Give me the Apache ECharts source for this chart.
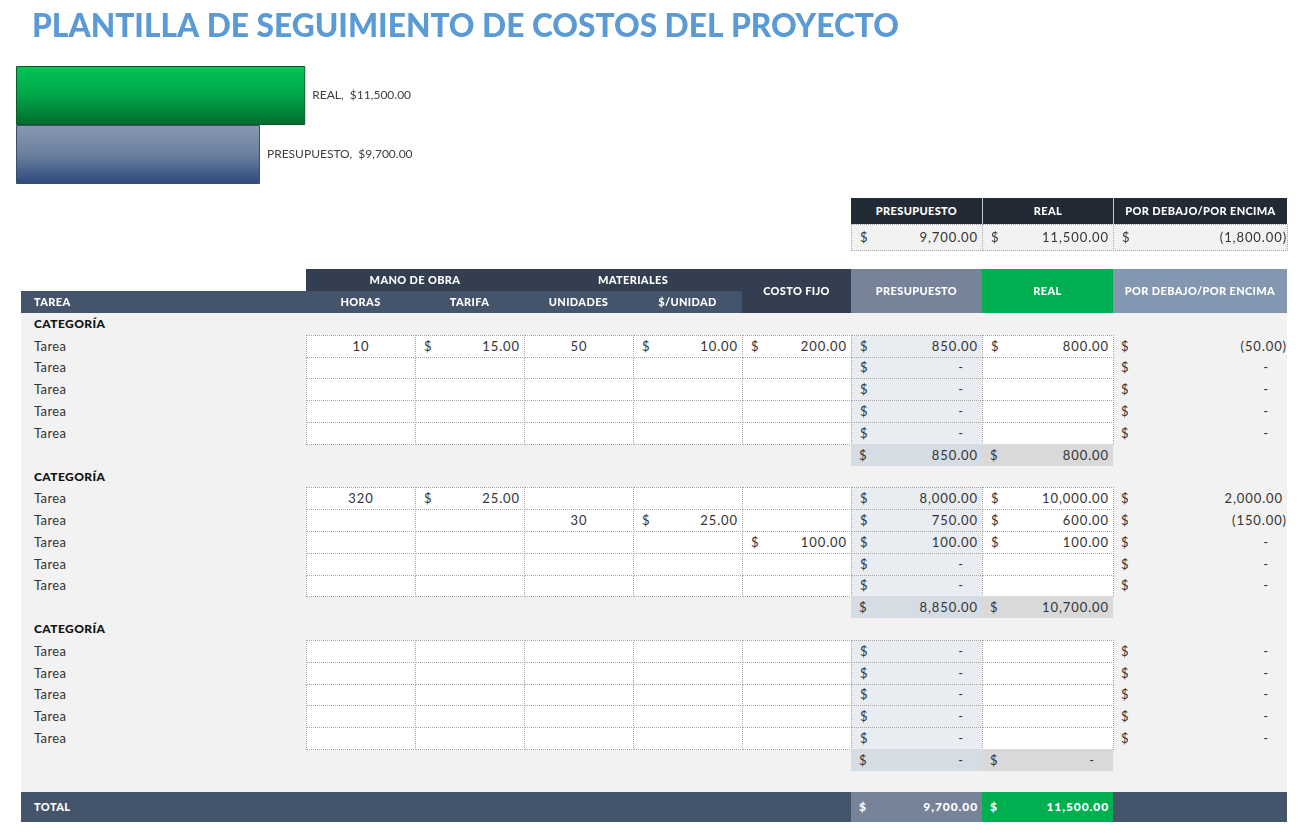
<!DOCTYPE html>
<html>
<head>
<meta charset="utf-8">
<script src="https://cdn.jsdelivr.net/npm/echarts@6/dist/echarts.min.js"></script>
<style>
html,body{margin:0;padding:0;background:#fff;width:1300px;height:833px;overflow:hidden;font-family:Lato,'Open Sans',sans-serif;}
#chart{position:absolute;left:0;top:0;width:1300px;height:200px;}
#sheet{position:absolute;left:0;top:0;width:1300px;height:833px;pointer-events:none;}
.c{position:absolute;box-sizing:border-box;font-size:13px;letter-spacing:0.4px;color:#333;white-space:nowrap;overflow:hidden;}
.h{color:#fff;font-weight:900;font-size:11px;letter-spacing:0.35px;text-align:center;}
.dot{border:1px dotted #a6a6a6;}
.cur{position:absolute;left:8px;top:0;letter-spacing:0;}
.num{position:absolute;top:0;letter-spacing:0.9px;}
</style>
</head>
<body>
<div id="chart"></div>
<div id="sheet"></div>
<script>
// ---------------- data ----------------
const titleText = 'PLANTILLA DE SEGUIMIENTO DE COSTOS DEL PROYECTO';
const barCategories = ['PRESUPUESTO', 'REAL'];
const barValues = [9700, 11500];

const summaryHeaders = ['PRESUPUESTO', 'REAL', 'POR DEBAJO/POR ENCIMA'];
const summaryValues = [9700, 11500, -1800];

const groupHeaders = ['MANO DE OBRA', 'MATERIALES'];
const columnHeaders = ['TAREA', 'HORAS', 'TARIFA', 'UNIDADES', '$/UNIDAD', 'COSTO FIJO', 'PRESUPUESTO', 'REAL', 'POR DEBAJO/POR ENCIMA'];

const categoryNames = ['CATEGORÍA', 'CATEGORÍA', 'CATEGORÍA'];
const taskNames = [
  ['Tarea', 'Tarea', 'Tarea', 'Tarea', 'Tarea'],
  ['Tarea', 'Tarea', 'Tarea', 'Tarea', 'Tarea'],
  ['Tarea', 'Tarea', 'Tarea', 'Tarea', 'Tarea']
];
const horas = [
  [10, null, null, null, null],
  [320, null, null, null, null],
  [null, null, null, null, null]
];
const tarifa = [
  [15, null, null, null, null],
  [25, null, null, null, null],
  [null, null, null, null, null]
];
const unidades = [
  [50, null, null, null, null],
  [null, 30, null, null, null],
  [null, null, null, null, null]
];
const precioUnidad = [
  [10, null, null, null, null],
  [null, 25, null, null, null],
  [null, null, null, null, null]
];
const costoFijo = [
  [200, null, null, null, null],
  [null, null, 100, null, null],
  [null, null, null, null, null]
];
const presupuesto = [
  [850, 0, 0, 0, 0],
  [8000, 750, 100, 0, 0],
  [0, 0, 0, 0, 0]
];
const real = [
  [800, null, null, null, null],
  [10000, 600, 100, null, null],
  [null, null, null, null, null]
];
const diferencia = [
  [-50, 0, 0, 0, 0],
  [2000, -150, 0, 0, 0],
  [0, 0, 0, 0, 0]
];
const subtotalPresupuesto = [850, 8850, 0];
const subtotalReal = [800, 10700, 0];
const totalLabel = 'TOTAL';
const totalPresupuesto = 9700;
const totalReal = 11500;

// ---------------- helpers ----------------
function money(v) {
  return Math.abs(v).toLocaleString('en-US', {minimumFractionDigits: 2, maximumFractionDigits: 2});
}

// ---------------- bar chart ----------------
const chart = echarts.init(document.getElementById('chart'), null, {renderer: 'canvas'});
chart.setOption({
  animation: false,
  title: {
    text: titleText, left: 27, top: 6,
    textStyle: {fontFamily: 'Lato', fontSize: 31.7, fontWeight: 900, color: '#5b9bd5'}
  },
  grid: {left: 16, top: 66, height: 118, width: 503, containLabel: false},
  xAxis: {type: 'value', min: 0, max: 20000, show: false},
  yAxis: {type: 'category', data: barCategories, show: false},
  series: [{
    type: 'bar',
    barCategoryGap: '0%',
    data: barValues.map((v, i) => ({
      value: v,
      itemStyle: i === 1 ? {
        color: new echarts.graphic.LinearGradient(0, 0, 0, 1, [{offset: 0, color: '#00c656'}, {offset: 0.5, color: '#00a548'}, {offset: 1, color: '#006b2c'}]),
        borderColor: '#0a5a2a', borderWidth: 1
      } : {
        color: new echarts.graphic.LinearGradient(0, 0, 0, 1, [{offset: 0, color: '#8899b3'}, {offset: 0.5, color: '#6c7f9e'}, {offset: 1, color: '#2c4a7e'}]),
        borderColor: '#3d4e6a', borderWidth: 1
      }
    })),
    label: {
      show: true, position: 'right', distance: 7,
      fontFamily: 'Lato', fontSize: 12, color: '#404040',
      formatter: p => p.name + ',  $' + money(p.value)
    }
  }]
});

// ---------------- table ----------------
const sheet = document.getElementById('sheet');
const colX = [21, 306, 415, 524, 633, 742, 851, 982, 1113, 1287];
const bodyTop = 313, rowH = 21.8;
function rowY(r) { return Math.round(bodyTop + r * rowH); }

function box(x, y, w, h, opts) {
  const d = document.createElement('div');
  d.className = 'c' + (opts.cls ? ' ' + opts.cls : '');
  d.style.left = x + 'px'; d.style.top = y + 'px';
  d.style.width = w + 'px'; d.style.height = h + 'px';
  d.style.lineHeight = (opts.lh || h) + 'px';
  if (opts.bg) d.style.background = opts.bg;
  if (opts.color) d.style.color = opts.color;
  if (opts.bold) d.style.fontWeight = opts.bold;
  if (opts.fs) d.style.fontSize = opts.fs + 'px';
  if (opts.align) d.style.textAlign = opts.align;
  if (opts.pl) d.style.paddingLeft = opts.pl + 'px';
  if (opts.text !== undefined) d.textContent = opts.text;
  sheet.appendChild(d);
  return d;
}
function acc(d, v, lh) {
  const s = document.createElement('span'); s.className = 'cur'; s.textContent = '$';
  s.style.lineHeight = lh + 'px';
  d.appendChild(s);
  const n = document.createElement('span'); n.className = 'num';
  n.style.lineHeight = lh + 'px';
  if (v === 0) { n.textContent = '-'; n.style.right = '18px'; }
  else if (v < 0) { n.textContent = '(' + money(v) + ')'; n.style.right = '0px'; }
  else { n.textContent = money(v); n.style.right = '4px'; }
  d.appendChild(n);
}

// summary table
for (let i = 0; i < 3; i++) {
  const x = colX[6 + i], w = colX[7 + i] - x;
  const hd = box(x, 198, w, 26, {cls: 'h', bg: '#222b35', text: summaryHeaders[i]});
  if (i > 0) hd.style.borderLeft = '1px solid #c8c8c8';
  const cell = box(x, 224, w + 1, 27, {cls: 'dot', bg: '#f2f2f2'});
  acc(cell, summaryValues[i], 24);
}

// body background
box(21, bodyTop, 1266, 792 - bodyTop, {bg: '#f2f2f2'});

// header
box(306, 269, 436, 22, {bg: '#333f50'});
box(21, 291, 721, 22, {bg: '#44546a'});
box(306, 269, 218, 22, {cls: 'h', text: groupHeaders[0]});
box(524, 269, 218, 22, {cls: 'h', text: groupHeaders[1]});
box(21, 291, 285, 22, {cls: 'h', text: columnHeaders[0], align: 'left', pl: 13});
for (let i = 1; i <= 4; i++) box(colX[i], 291, colX[i + 1] - colX[i], 22, {cls: 'h', text: columnHeaders[i]});
box(742, 269, 109, 44, {cls: 'h', bg: '#333f50', text: columnHeaders[5]});
box(851, 269, 131, 44, {cls: 'h', bg: '#768398', text: columnHeaders[6]});
box(982, 269, 131, 44, {cls: 'h', bg: '#00b050', text: columnHeaders[7]});
box(1113, 269, 174, 44, {cls: 'h', bg: '#8497b0', text: columnHeaders[8]});

// body rows
const inputs = [horas, tarifa, unidades, precioUnidad, costoFijo];
for (let c = 0; c < categoryNames.length; c++) {
  const r0 = c * 7;
  let y = rowY(r0), h = rowY(r0 + 1) - y;
  box(21, y, 285, h, {text: categoryNames[c], bold: 900, fs: 12, color: '#111', pl: 13});
  for (let t = 0; t < 5; t++) {
    y = rowY(r0 + 1 + t); h = rowY(r0 + 2 + t) - y;
    box(21, y, 285, h, {text: taskNames[c][t], pl: 13});
    for (let k = 0; k < 5; k++) {
      const x = colX[1 + k], w = colX[2 + k] - x;
      const cell = box(x, y, w + 1, h + 1, {cls: 'dot', bg: '#fff'});
      const v = inputs[k][c][t];
      if (v !== null) {
        if (k === 0 || k === 2) { cell.textContent = String(v); cell.style.textAlign = 'center'; cell.style.letterSpacing = '0.9px'; cell.style.lineHeight = (h - 2) + 'px'; }
        else acc(cell, v, h - 2);
      }
    }
    const pc = box(851, y, 132, h + 1, {cls: 'dot', bg: '#e9edf2'});
    acc(pc, presupuesto[c][t], h - 2);
    const rc = box(982, y, 132, h + 1, {cls: 'dot', bg: '#fff'});
    if (real[c][t] !== null) acc(rc, real[c][t], h - 2);
    const dc = box(1113, y, 174, h, {});
    acc(dc, diferencia[c][t], h);
  }
  y = rowY(r0 + 6); h = rowY(r0 + 7) - y;
  const sp = box(851, y, 131, h, {bg: '#d6dce4'});
  acc(sp, subtotalPresupuesto[c], h);
  const sr = box(982, y, 131, h, {bg: '#d9d9d9'});
  acc(sr, subtotalReal[c], h);
}

// total row
box(21, 792, 1266, 30, {bg: '#44546a', color: '#fff', bold: 900, fs: 11, text: totalLabel, pl: 13});
const tp = box(851, 792, 131, 30, {bg: '#768398', color: '#fff', bold: 900, fs: 12});
acc(tp, totalPresupuesto, 30);
const tr = box(982, 792, 131, 30, {bg: '#00b050', color: '#fff', bold: 900, fs: 12});
acc(tr, totalReal, 30);
</script>
</body>
</html>
